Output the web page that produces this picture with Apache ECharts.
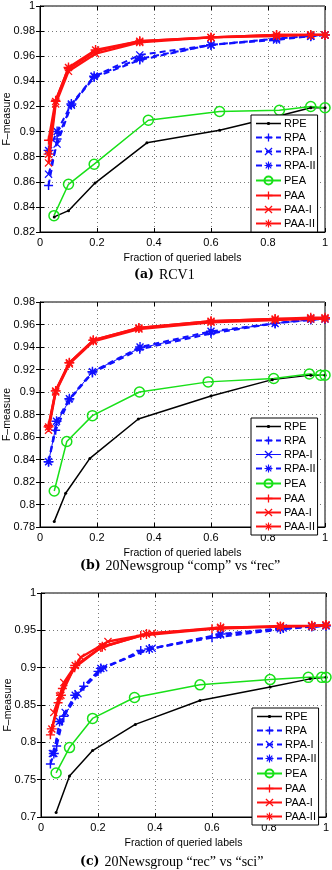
<!DOCTYPE html>
<html>
<head>
<meta charset="utf-8">
<script src="https://cdn.jsdelivr.net/npm/echarts@6/dist/echarts.min.js"></script>
<style>
html, body { margin: 0; padding: 0; background: #fff; }
#main { width: 332px; height: 870px; }
</style>
</head>
<body>
<div id="main"></div>
<script>
// names of the eight methods
var names = ['RPE', 'RPA', 'RPA-I', 'RPA-II', 'PEA', 'PAA', 'PAA-I', 'PAA-II'];

// (a) RCV1  -- [fraction of queried labels, F-measure]
var a_RPE = [[0.05, 0.832], [0.1, 0.837], [0.193, 0.859], [0.375, 0.891], [0.63, 0.901], [0.83, 0.912], [0.95, 0.919], [1.0, 0.919]];
var a_RPA = [[0.03, 0.857], [0.06, 0.894], [0.11, 0.921], [0.19, 0.943], [0.35, 0.957], [0.6, 0.969], [0.83, 0.974], [0.95, 0.976], [1.0, 0.977]];
var a_RPA1 = [[0.03, 0.866], [0.06, 0.89], [0.11, 0.921], [0.19, 0.944], [0.35, 0.961], [0.6, 0.969], [0.83, 0.973], [0.95, 0.976], [1.0, 0.977]];
var a_RPA2 = [[0.03, 0.885], [0.06, 0.9], [0.11, 0.922], [0.19, 0.944], [0.35, 0.958], [0.6, 0.969], [0.83, 0.974], [0.95, 0.976], [1.0, 0.977]];
var a_PEA = [[0.049, 0.833], [0.1, 0.858], [0.19, 0.874], [0.38, 0.909], [0.63, 0.916], [0.84, 0.917], [0.95, 0.92], [1.0, 0.919]];
var a_PAA = [[0.03, 0.893], [0.055, 0.925], [0.1, 0.95], [0.195, 0.964], [0.35, 0.972], [0.6, 0.975], [0.83, 0.977], [0.95, 0.977], [1.0, 0.977]];
var a_PAA1 = [[0.03, 0.875], [0.055, 0.922], [0.1, 0.948], [0.195, 0.962], [0.35, 0.971], [0.6, 0.975], [0.83, 0.976], [0.95, 0.977], [1.0, 0.977]];
var a_PAA2 = [[0.03, 0.882], [0.055, 0.924], [0.1, 0.951], [0.195, 0.965], [0.35, 0.972], [0.6, 0.975], [0.83, 0.977], [0.95, 0.977], [1.0, 0.977]];

// (b) 20Newsgroup comp vs rec
var b_RPE = [[0.05, 0.785], [0.09, 0.81], [0.175, 0.841], [0.345, 0.876], [0.6, 0.8965], [0.815, 0.911], [0.95, 0.915], [1.0, 0.915]];
var b_RPA = [[0.03, 0.838], [0.055, 0.866], [0.103, 0.893], [0.184, 0.917], [0.35, 0.938], [0.6, 0.952], [0.825, 0.961], [0.95, 0.964], [1.0, 0.965]];
var b_RPA1 = [[0.03, 0.838], [0.058, 0.872], [0.103, 0.893], [0.184, 0.918], [0.35, 0.939], [0.6, 0.953], [0.825, 0.961], [0.95, 0.964], [1.0, 0.965]];
var b_RPA2 = [[0.03, 0.838], [0.058, 0.874], [0.103, 0.894], [0.184, 0.918], [0.351, 0.94], [0.6, 0.954], [0.825, 0.961], [0.95, 0.965], [1.0, 0.965]];
var b_PEA = [[0.05, 0.812], [0.094, 0.856], [0.184, 0.879], [0.349, 0.9], [0.59, 0.909], [0.82, 0.912], [0.945, 0.916], [0.985, 0.915], [1.0, 0.915]];
var b_PAA = [[0.03, 0.87], [0.055, 0.901], [0.103, 0.926], [0.187, 0.946], [0.347, 0.957], [0.6, 0.963], [0.825, 0.965], [0.95, 0.965], [1.0, 0.965]];
var b_PAA1 = [[0.03, 0.866], [0.055, 0.9], [0.103, 0.925], [0.187, 0.945], [0.347, 0.956], [0.6, 0.962], [0.825, 0.964], [0.95, 0.965], [1.0, 0.965]];
var b_PAA2 = [[0.03, 0.869], [0.055, 0.901], [0.103, 0.926], [0.187, 0.946], [0.347, 0.957], [0.6, 0.963], [0.825, 0.965], [0.95, 0.966], [1.0, 0.966]];

// (c) 20Newsgroup rec vs sci
var c_RPE = [[0.053, 0.706], [0.1, 0.755], [0.181, 0.789], [0.331, 0.824], [0.558, 0.856], [0.804, 0.874], [0.944, 0.885], [1.0, 0.887]];
var c_RPA = [[0.033, 0.771], [0.055, 0.795], [0.08, 0.835], [0.15, 0.875], [0.2, 0.895], [0.35, 0.923], [0.6, 0.94], [0.84, 0.951], [0.95, 0.955], [1.0, 0.956]];
var c_RPA1 = [[0.04, 0.785], [0.085, 0.84], [0.13, 0.865], [0.22, 0.9], [0.39, 0.926], [0.63, 0.944], [0.84, 0.952], [0.95, 0.955], [1.0, 0.956]];
var c_RPA2 = [[0.045, 0.785], [0.065, 0.828], [0.12, 0.863], [0.21, 0.899], [0.38, 0.925], [0.63, 0.945], [0.85, 0.953], [0.95, 0.955], [1.0, 0.956]];
var c_PEA = [[0.053, 0.759], [0.1, 0.793], [0.181, 0.832], [0.328, 0.86], [0.558, 0.877], [0.804, 0.884], [0.938, 0.887], [0.985, 0.887], [1.0, 0.887]];
var c_PAA = [[0.033, 0.81], [0.06, 0.853], [0.075, 0.872], [0.118, 0.9], [0.21, 0.927], [0.35, 0.943], [0.6, 0.952], [0.84, 0.955], [0.95, 0.956], [1.0, 0.957]];
var c_PAA1 = [[0.045, 0.84], [0.065, 0.862], [0.08, 0.88], [0.14, 0.914], [0.235, 0.935], [0.39, 0.946], [0.63, 0.953], [0.84, 0.956], [0.95, 0.956], [1.0, 0.957]];
var c_PAA2 = [[0.038, 0.818], [0.07, 0.863], [0.12, 0.903], [0.215, 0.928], [0.37, 0.945], [0.63, 0.954], [0.84, 0.955], [0.95, 0.956], [1.0, 0.957]];

var RED = '#ff1010', BLUE = '#1010ff', GREEN = '#18e018', BLACK = '#000';

var PLUS = 'path://M4.2,0H5.8V4.2H10V5.8H5.8V10H4.2V5.8H0V4.2H4.2Z';
var CROSS = 'path://M1.1,0L5,3.9L8.9,0L10,1.1L6.1,5L10,8.9L8.9,10L5,6.1L1.1,10L0,8.9L3.9,5L0,1.1Z';
var STAR = 'path://M4.3,0H5.7V4.3H10V5.7H5.7V10H4.3V5.7H0V4.3H4.3Z M2,1L5,4L8,1L9,2L6,5L9,8L8,9L5,6L2,9L1,8L4,5L1,2Z';
// legend icon for RPE: thin line with a small dot
var DOTLINE = 'path://M0,4.3H11.3V3.5H13.7V4.3H25V5.7H13.7V6.5H11.3V5.7H0Z';

function mk(name, data, idx, color, symbol, size, dashed, width) {
  return {
    name: name,
    type: 'line',
    xAxisIndex: idx,
    yAxisIndex: idx,
    data: data,
    symbol: symbol,
    symbolSize: size,
    color: color,
    lineStyle: { color: color, width: width, type: dashed ? [6, 4] : 'solid' },
    itemStyle: symbol === 'circle' && size > 5
      ? { color: 'none', borderColor: color, borderWidth: 1.5 }
      : { color: color },
    emphasis: { disabled: true },
    animation: false,
    z: color === RED ? 5 : 3
  };
}

function plotSeries(idx, d, thinRPA1) {
  return [
    mk('RPE', d[0], idx, BLACK, 'circle', 3, false, 1.5),
    mk('RPA', d[1], idx, BLUE, PLUS, 9, true, 2),
    thinRPA1 ? mk('RPA-I', d[2], idx, BLUE, CROSS, 6, false, 1)
             : mk('RPA-I', d[2], idx, BLUE, CROSS, 8, true, 2),
    mk('RPA-II', d[3], idx, BLUE, STAR, 10, true, 2),
    mk('PEA', d[4], idx, GREEN, 'circle', 10, false, 1.5),
    mk('PAA', d[5], idx, RED, PLUS, 9, false, 2.4),
    mk('PAA-I', d[6], idx, RED, CROSS, 8, false, 2.4),
    mk('PAA-II', d[7], idx, RED, STAR, 10, false, 2.4)
  ];
}

var series = []
  .concat(plotSeries(0, [a_RPE, a_RPA, a_RPA1, a_RPA2, a_PEA, a_PAA, a_PAA1, a_PAA2], false))
  .concat(plotSeries(1, [b_RPE, b_RPA, b_RPA1, b_RPA2, b_PEA, b_PAA, b_PAA1, b_PAA2], true))
  .concat(plotSeries(2, [c_RPE, c_RPA, c_RPA1, c_RPA2, c_PEA, c_PAA, c_PAA1, c_PAA2], false));

var grids = [
  { left: 40, top: 6, width: 285, height: 226 },
  { left: 40, top: 302, width: 285, height: 225 },
  { left: 41, top: 593, width: 285, height: 224 }
];
var yRanges = [[0.82, 1, 0.02], [0.78, 0.98, 0.02], [0.7, 1, 0.05]];

var FONT = 'Liberation Sans, Arial, sans-serif';
var labelFont = { color: '#000', fontSize: 11, fontFamily: FONT };
var tickStyle = { show: true, inside: true, length: 4, lineStyle: { color: '#000' } };
var gridLine = { show: true, lineStyle: { color: '#777', type: [1, 3], width: 1 } };

function xAxis(i) {
  return {
    type: 'value', gridIndex: i, min: 0, max: 1, interval: 0.2,
    name: 'Fraction of queried labels', nameLocation: 'middle', nameGap: 21,
    nameMoveOverlap: false,
    nameTextStyle: { color: '#000', fontSize: 10.5, fontFamily: FONT },
    axisLine: { show: true, lineStyle: { color: '#000', width: 1 } },
    axisTick: tickStyle,
    axisLabel: Object.assign({ margin: 5 }, labelFont),
    splitLine: gridLine
  };
}
function xAxisTop(i) {
  return {
    type: 'value', gridIndex: i, position: 'top', min: 0, max: 1, interval: 0.2,
    axisLine: { show: false }, axisTick: tickStyle, axisLabel: { show: false }, splitLine: { show: false }
  };
}
function yAxis(i) {
  return {
    type: 'value', gridIndex: i, min: yRanges[i][0], max: yRanges[i][1], interval: yRanges[i][2],
    name: 'F\u2013measure', nameLocation: 'middle', nameGap: 27,
    nameMoveOverlap: false,
    nameTextStyle: { color: '#000', fontSize: 10.5, fontFamily: FONT },
    axisLine: { show: true, lineStyle: { color: '#000', width: 1 } },
    axisTick: tickStyle,
    axisLabel: Object.assign({ margin: 5 }, labelFont),
    splitLine: gridLine
  };
}
function yAxisRight(i) {
  return {
    type: 'value', gridIndex: i, position: 'right', min: yRanges[i][0], max: yRanges[i][1], interval: yRanges[i][2],
    axisLine: { show: false }, axisTick: tickStyle, axisLabel: { show: false }, splitLine: { show: false }
  };
}

function legend(left, top, thinRPA1) {
  var data = names.map(function (n) {
    if (n === 'RPE') {
      return { name: n, icon: DOTLINE };
    }
    if (thinRPA1 && n === 'RPA-I') {
      return { name: n, lineStyle: { type: 'solid', width: 1 } };
    }
    return { name: n };
  });
  return {
    data: data, orient: 'vertical', left: left, top: top,
    itemWidth: 25, itemHeight: 10, itemGap: 3,
    padding: [3, 2, 3, 4],
    backgroundColor: '#fff', borderColor: '#000', borderWidth: 1, borderRadius: 0,
    selectedMode: false,
    textStyle: { color: '#000', fontSize: 11, lineHeight: 11, fontFamily: FONT, padding: [0, 0, 0, -2] }
  };
}

var capRich = {
  b: { fontFamily: 'DejaVu Serif, Liberation Serif, serif', fontWeight: 'bold', fontSize: 12.5, color: '#000' },
  r: { fontFamily: 'Liberation Serif, DejaVu Serif, serif', fontWeight: 'normal', fontSize: 14, color: '#000' }
};

var chart = echarts.init(document.getElementById('main'), null, { renderer: 'canvas' });
chart.setOption({
  backgroundColor: '#fff',
  animation: false,
  grid: grids.map(function (g) {
    return Object.assign({
      show: true, borderColor: '#000', borderWidth: 1, backgroundColor: 'transparent',
      containLabel: false, outerBoundsMode: 'none'
    }, g);
  }),
  xAxis: [xAxis(0), xAxis(1), xAxis(2), xAxisTop(0), xAxisTop(1), xAxisTop(2)],
  yAxis: [yAxis(0), yAxis(1), yAxis(2), yAxisRight(0), yAxisRight(1), yAxisRight(2)],
  legend: [legend(251, 115, false), legend(251, 418, true), legend(252, 708, false)],
  title: [
    { left: 134, top: 266, padding: 0, text: '{b|(a)} {r|RCV1}', textStyle: { fontWeight: 'normal', rich: capRich } },
    { left: 80, top: 557, padding: 0, text: '{b|(b)} {r|20Newsgroup \u201ccomp\u201d vs \u201crec\u201d}', textStyle: { fontWeight: 'normal', rich: capRich } },
    { left: 80, top: 853, padding: 0, text: '{b|(c)} {r|20Newsgroup \u201crec\u201d vs \u201csci\u201d}', textStyle: { fontWeight: 'normal', rich: capRich } }
  ],
  series: series
});
</script>
</body>
</html>
